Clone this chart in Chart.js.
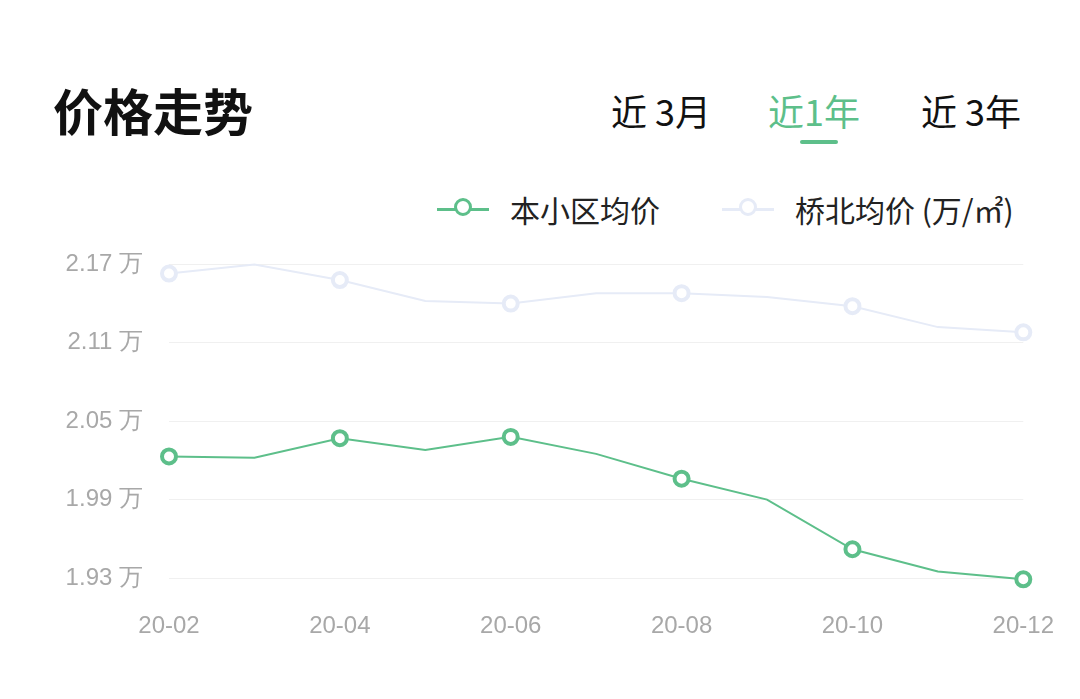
<!DOCTYPE html>
<html><head><meta charset="utf-8">
<script src="https://cdn.jsdelivr.net/npm/chart.js@4"></script>
<style>
body{margin:0;background:#fff;font-family:"Noto Sans CJK SC","Noto Sans",sans-serif;width:1080px;height:699px;position:relative;overflow:hidden}
.t{position:absolute;white-space:nowrap;line-height:1}
.lg{position:absolute;top:198px;height:22px}
.lg i{position:absolute;top:10px;width:52px;height:3px}
.lg b{position:absolute;left:17px;top:0;width:12px;height:12px;border-radius:50%;background:#fff;border:3px solid}
</style></head><body>
<div class="t" style="left:53px;top:84px;font-size:50px;font-weight:bold;color:#111">价格走势</div>
<div class="t" style="left:611px;top:92px;font-size:36px;color:#111">近 3月</div>
<div class="t" style="left:768px;top:92px;font-size:36px;color:#5dbf8a">近1年</div>
<div style="position:absolute;left:800px;top:140px;width:38px;height:4px;background:#5dbf8a;border-radius:2px"></div>
<div class="t" style="left:921px;top:92px;font-size:36px;color:#111">近 3年</div>
<div class="lg" style="left:437px"><i style="background:#5dbf8a"></i><b style="border-color:#5dbf8a"></b></div>
<div class="t" style="left:510px;top:194px;font-size:30px;color:#222">本小区均价</div>
<div class="lg" style="left:722px"><i style="background:#e6ebf7"></i><b style="border-color:#e6ebf7"></b></div>
<div class="t" style="left:795px;top:194px;font-size:30px;color:#222">桥北均价 (万/㎡)</div>
<div style="position:absolute;left:0;top:224px;width:1080px;height:421px"><canvas id="c"></canvas></div>
<script>
const months = ['20-02','20-03','20-04','20-05','20-06','20-07','20-08','20-09','20-10','20-11','20-12'];
const ownPrice = [2.023,2.022,2.037,2.028,2.038,2.025,2.006,1.990,1.952,1.935,1.929];
const areaPrice = [2.163,2.170,2.158,2.142,2.140,2.148,2.148,2.145,2.138,2.122,2.118];
const yTicks = [1.93,1.99,2.05,2.11,2.17];

const radii = months.map((m,i) => i % 2 == 0 ? 7 : 0);
function ds(data, color){
    return {data: data, borderColor: color, borderWidth: 2, pointRadius: radii, pointHoverRadius: radii, clip: false,
        pointBackgroundColor: '#fff', pointBorderColor: color, pointBorderWidth: 4, tension: 0};
}
new Chart(document.getElementById('c'), {
    type: 'line',
    data: {labels: months, datasets: [ds(areaPrice,'#e6ebf7'), ds(ownPrice,'#5dbf8a')]},
    options: {
        responsive: true, maintainAspectRatio: false, animation: false,
        layout: {padding: {top: 20, right: 53, left: 0, bottom: 0}},
        plugins: {legend: {display: false}, tooltip: {enabled: false}},
        scales: {
            x: {
                grid: {display: false}, border: {display: false},
                ticks: {color: '#a8a8a8', font: {size: 24}, padding: 26, maxRotation: 0, autoSkip: false,
                    callback: function(v, i){ return i % 2 == 0 ? months[i] : ''; }},
                afterFit: function(s){ s.height = 67; }
            },
            y: {
                min: 1.93, max: 2.17,
                afterBuildTicks: function(s){ s.ticks = yTicks.map(v => ({value: v})); },
                grid: {color: '#f0f0f0', drawTicks: false}, border: {display: false},
                ticks: {color: '#a8a8a8', font: {size: 24}, padding: 26,
                    callback: function(v){ return v.toFixed(2) + ' 万'; }},
                afterFit: function(s){ s.width = 169; }
            }
        }
    }
});
</script>
</body></html>
